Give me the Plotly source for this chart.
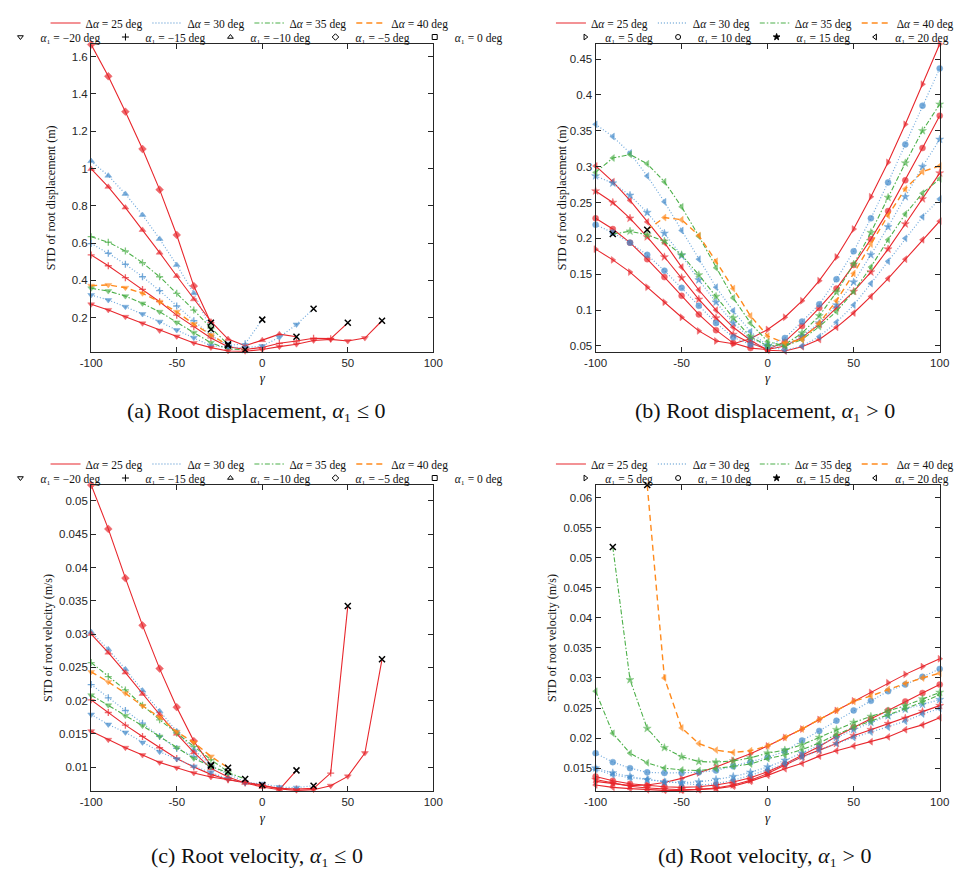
import plotly.graph_objects as go

# ---------------- data ----------------
GAMMA_STEP = 10
X_TICKS = [-100, -50, 0, 50, 100]
X_TICK_TEXT = ["-100", "-50", "0", "50", "100"]

A_Y_TICKS = [0.2, 0.4, 0.6, 0.8, 1.0, 1.2, 1.4, 1.6]
A_Y_TEXT = ["0.2", "0.4", "0.6", "0.8", "1", "1.2", "1.4", "1.6"]
B_Y_TICKS = [0.05, 0.1, 0.15, 0.2, 0.25, 0.3, 0.35, 0.4, 0.45]
B_Y_TEXT = ["0.05", "0.1", "0.15", "0.2", "0.25", "0.3", "0.35", "0.4", "0.45"]
C_Y_TICKS = [0.01, 0.015, 0.02, 0.025, 0.03, 0.035, 0.04, 0.045, 0.05]
C_Y_TEXT = ["0.01", "0.015", "0.02", "0.025", "0.03", "0.035", "0.04", "0.045", "0.05"]
D_Y_TICKS = [0.015, 0.02, 0.025, 0.03, 0.035, 0.04, 0.045, 0.05, 0.055, 0.06]
D_Y_TEXT = ["0.015", "0.02", "0.025", "0.03", "0.035", "0.04", "0.045", "0.05", "0.055", "0.06"]

DALPHA = [25, 30, 35, 40]
ALPHA1_NEG = [-20, -15, -10, -5, 0]
ALPHA1_POS = [5, 10, 15, 20]

# (a) root displacement, alpha1 <= 0   (gamma from -100 step 10)
A_25_M5 = [1.665, 1.495, 1.305, 1.105, 0.887, 0.644, 0.370, 0.173]
A_30_M10 = [1.040, 0.962, 0.864, 0.751, 0.623, 0.483, 0.332, 0.138]
A_25_M10 = [0.998, 0.902, 0.791, 0.671, 0.549, 0.424, 0.299, 0.180, 0.086, 0.050, 0.080, 0.112, 0.098]
A_35_M15 = [0.635, 0.605, 0.558, 0.495, 0.420, 0.331, 0.241, 0.145, 0.058]
A_30_M15 = [0.598, 0.546, 0.487, 0.420, 0.345, 0.263, 0.184, 0.105, 0.052, 0.060, 0.190]
A_25_M15 = [0.537, 0.479, 0.415, 0.352, 0.286, 0.214, 0.152, 0.092, 0.045, 0.030, 0.041, 0.063, 0.075, 0.090, 0.088, 0.173]
A_40_M20 = [0.372, 0.376, 0.361, 0.331, 0.286, 0.232, 0.166, 0.107, 0.052]
A_35_M20 = [0.358, 0.343, 0.316, 0.277, 0.232, 0.175, 0.120, 0.066, 0.033, 0.028]
A_30_M20 = [0.322, 0.295, 0.259, 0.220, 0.179, 0.134, 0.093, 0.050, 0.042, 0.040, 0.048, 0.095, 0.164, 0.248]
A_25_M20 = [0.272, 0.242, 0.205, 0.170, 0.132, 0.100, 0.065, 0.040, 0.022, 0.020, 0.030, 0.045, 0.058, 0.078, 0.084, 0.075, 0.091, 0.184]

# (b) root displacement, alpha1 > 0
B_25_P5 = [0.185, 0.170, 0.153, 0.132, 0.111, 0.090, 0.071, 0.057, 0.053, 0.060, 0.073, 0.090, 0.113, 0.141, 0.174, 0.213, 0.258, 0.306, 0.359, 0.415, 0.471]
B_25_P10 = [0.228, 0.213, 0.194, 0.171, 0.146, 0.120, 0.094, 0.072, 0.054, 0.047, 0.045, 0.056, 0.078, 0.103, 0.130, 0.163, 0.199, 0.238, 0.281, 0.326, 0.371]
B_25_P15 = [0.266, 0.250, 0.228, 0.202, 0.174, 0.145, 0.115, 0.089, 0.066, 0.054, 0.045, 0.050, 0.062, 0.080, 0.103, 0.126, 0.153, 0.185, 0.220, 0.255, 0.291]
B_25_P20 = [0.301, 0.279, 0.253, 0.223, 0.194, 0.160, 0.128, 0.100, 0.076, 0.058, 0.044, 0.043, 0.049, 0.059, 0.076, 0.096, 0.119, 0.144, 0.171, 0.198, 0.224]
B_30_P10 = [0.219, 0.208, 0.194, 0.177, 0.155, 0.131, 0.106, 0.082, 0.062, 0.052, 0.050, 0.061, 0.084, 0.108, 0.143, 0.182, 0.228, 0.278, 0.331, 0.385, 0.437]
B_30_P15 = [0.287, 0.277, 0.260, 0.236, 0.207, 0.176, 0.142, 0.111, 0.082, 0.061, 0.050, 0.050, 0.064, 0.082, 0.107, 0.139, 0.177, 0.216, 0.258, 0.300, 0.338]
B_30_P20 = [0.359, 0.342, 0.319, 0.287, 0.251, 0.211, 0.171, 0.132, 0.099, 0.070, 0.050, 0.044, 0.050, 0.063, 0.083, 0.107, 0.137, 0.168, 0.200, 0.230, 0.255]
B_35_P15 = [0.206, 0.210, 0.205, 0.196, 0.177, 0.149, 0.119, 0.089, 0.063, 0.050, 0.052, 0.068, 0.092, 0.125, 0.164, 0.208, 0.257, 0.305, 0.350, 0.387]
B_35_P20 = [0.292, 0.312, 0.317, 0.304, 0.279, 0.244, 0.203, 0.159, 0.117, 0.082, 0.056, 0.050, 0.059, 0.077, 0.098, 0.126, 0.160, 0.198, 0.234, 0.263, 0.283]
B_40_P20 = [0.212, 0.229, 0.226, 0.204, 0.168, 0.130, 0.092, 0.064, 0.054, 0.059, 0.082, 0.113, 0.151, 0.192, 0.232, 0.269, 0.293, 0.301]

# (c) root velocity, alpha1 <= 0
C_25_M5 = [0.0524, 0.0458, 0.0384, 0.0313, 0.0248, 0.0190, 0.0139, 0.0102]
C_30_M10 = [0.0303, 0.0277, 0.0247, 0.0215, 0.0184, 0.0154, 0.0126, 0.0103]
C_25_M10 = [0.0300, 0.0272, 0.0242, 0.0210, 0.0179, 0.0150, 0.0122, 0.0098, 0.0085, 0.0076, 0.0070, 0.0066, 0.0095]
C_35_M15 = [0.0257, 0.0236, 0.0216, 0.0193, 0.0171, 0.0151, 0.0131, 0.0111, 0.0093]
C_30_M15 = [0.0224, 0.0204, 0.0185, 0.0166, 0.0146, 0.0128, 0.0116, 0.0101, 0.0089, 0.0078, 0.0073]
C_25_M15 = [0.0201, 0.0182, 0.0163, 0.0146, 0.0129, 0.0113, 0.0100, 0.0089, 0.0081, 0.0076, 0.0072, 0.0068, 0.0067, 0.0068, 0.0091, 0.0342]
C_40_M20 = [0.0243, 0.0228, 0.0211, 0.0192, 0.0175, 0.0153, 0.0137, 0.0116, 0.0099]
C_35_M20 = [0.0208, 0.0193, 0.0177, 0.0162, 0.0146, 0.0129, 0.0113, 0.0101, 0.0091, 0.0082]
C_30_M20 = [0.0179, 0.0164, 0.0152, 0.0137, 0.0123, 0.0112, 0.0101, 0.0092, 0.0082, 0.0076, 0.0075, 0.0070, 0.0069, 0.0072]
C_25_M20 = [0.0154, 0.0141, 0.0129, 0.0118, 0.0107, 0.0099, 0.0091, 0.0085, 0.0081, 0.0077, 0.0073, 0.0067, 0.0065, 0.0066, 0.0072, 0.0086, 0.0121, 0.0262]

# (d) root velocity, alpha1 > 0
D_25_P5 = [0.0128, 0.0124, 0.0121, 0.0122, 0.0126, 0.0133, 0.0142, 0.0152, 0.0163, 0.0174, 0.0187, 0.0201, 0.0215, 0.0231, 0.0246, 0.0262, 0.0276, 0.0292, 0.0306, 0.0319, 0.0332]
D_25_P10 = [0.0136, 0.0129, 0.0124, 0.0121, 0.0119, 0.0118, 0.0119, 0.0122, 0.0127, 0.0134, 0.0144, 0.0157, 0.0171, 0.0186, 0.0203, 0.0218, 0.0232, 0.0246, 0.0261, 0.0275, 0.0289]
D_25_P15 = [0.0131, 0.0125, 0.0120, 0.0117, 0.0115, 0.0114, 0.0115, 0.0117, 0.0122, 0.0130, 0.0141, 0.0155, 0.0169, 0.0180, 0.0191, 0.0204, 0.0214, 0.0224, 0.0233, 0.0244, 0.0254]
D_25_P20 = [0.0122, 0.0118, 0.0116, 0.0114, 0.0113, 0.0113, 0.0114, 0.0116, 0.0120, 0.0128, 0.0138, 0.0149, 0.0158, 0.0170, 0.0179, 0.0187, 0.0194, 0.0202, 0.0214, 0.0222, 0.0234]
D_30_P10 = [0.0175, 0.0160, 0.0150, 0.0143, 0.0142, 0.0142, 0.0143, 0.0146, 0.0153, 0.0160, 0.0168, 0.0178, 0.0196, 0.0212, 0.0229, 0.0246, 0.0262, 0.0278, 0.0289, 0.0302, 0.0315]
D_30_P15 = [0.0150, 0.0142, 0.0136, 0.0131, 0.0127, 0.0126, 0.0127, 0.0131, 0.0136, 0.0143, 0.0152, 0.0163, 0.0175, 0.0188, 0.0201, 0.0214, 0.0226, 0.0237, 0.0248, 0.0256, 0.0264]
D_30_P20 = [0.0148, 0.0139, 0.0134, 0.0131, 0.0127, 0.0124, 0.0122, 0.0124, 0.0130, 0.0138, 0.0147, 0.0157, 0.0168, 0.0180, 0.0191, 0.0201, 0.0210, 0.0218, 0.0228, 0.0240, 0.0249]
D_35_P15 = [0.0518, 0.0297, 0.0216, 0.0184, 0.0169, 0.0161, 0.0160, 0.0162, 0.0167, 0.0175, 0.0180, 0.0189, 0.0201, 0.0214, 0.0226, 0.0236, 0.0245, 0.0254, 0.0265, 0.0276]
D_35_P20 = [0.0278, 0.0208, 0.0175, 0.0159, 0.0150, 0.0147, 0.0146, 0.0149, 0.0153, 0.0157, 0.0166, 0.0172, 0.0181, 0.0192, 0.0206, 0.0218, 0.0228, 0.0238, 0.0249, 0.0260, 0.0272]
D_40_P20 = [0.0621, 0.0300, 0.0217, 0.0191, 0.0180, 0.0176, 0.0179, 0.0187, 0.0201, 0.0215, 0.0231, 0.0246, 0.0261, 0.0270, 0.0281, 0.0291, 0.0300, 0.0308]

# series: (delta alpha, alpha1, first gamma, values)
A_SERIES = [(25, -5, -100, A_25_M5), (30, -10, -100, A_30_M10), (25, -10, -100, A_25_M10),
            (35, -15, -100, A_35_M15), (30, -15, -100, A_30_M15), (25, -15, -100, A_25_M15),
            (40, -20, -100, A_40_M20), (35, -20, -100, A_35_M20), (30, -20, -100, A_30_M20),
            (25, -20, -100, A_25_M20)]
B_SERIES = [(25, 5, -100, B_25_P5), (25, 10, -100, B_25_P10), (25, 15, -100, B_25_P15),
            (25, 20, -100, B_25_P20), (30, 10, -100, B_30_P10), (30, 15, -100, B_30_P15),
            (30, 20, -100, B_30_P20), (35, 15, -90, B_35_P15), (35, 20, -100, B_35_P20),
            (40, 20, -70, B_40_P20)]
C_SERIES = [(25, -5, -100, C_25_M5), (30, -10, -100, C_30_M10), (25, -10, -100, C_25_M10),
            (35, -15, -100, C_35_M15), (30, -15, -100, C_30_M15), (25, -15, -100, C_25_M15),
            (40, -20, -100, C_40_M20), (35, -20, -100, C_35_M20), (30, -20, -100, C_30_M20),
            (25, -20, -100, C_25_M20)]
D_SERIES = [(25, 5, -100, D_25_P5), (25, 10, -100, D_25_P10), (25, 15, -100, D_25_P15),
            (25, 20, -100, D_25_P20), (30, 10, -100, D_30_P10), (30, 15, -100, D_30_P15),
            (30, 20, -100, D_30_P20), (35, 15, -90, D_35_P15), (35, 20, -100, D_35_P20),
            (40, 20, -70, D_40_P20)]

# ---------------- styles ----------------
LINE_STYLE = {  # line colour, marker colour, dash, width
    25: ("#E8272D", "#E8272D", "solid", 1.1),
    30: ("#6FA8DC", "#3D87C9", "1px,2px", 1.2),
    35: ("#4DB04A", "#4DB04A", "5px,2px,1.5px,2px", 1.1),
    40: ("#FF8A1C", "#FF8A1C", "6px,4px", 1.4),
}
SYMBOL = {-20: "triangle-down", -15: "cross-thin", -10: "triangle-up", -5: "diamond", 0: "square",
          5: "triangle-right", 10: "circle", 15: "star", 20: "triangle-left"}
LEG_SYMBOL = {-20: "triangle-down-open", -15: "cross-thin-open", -10: "triangle-up-open",
              -5: "diamond-open", 0: "square-open", 5: "triangle-right-open", 10: "circle-open",
              15: "star", 20: "triangle-left-open"}
MS = 6
AXC = "#262626"
SERIF = "Liberation Serif"
SANS = "Liberation Sans"

fig = go.Figure()


def add_panel(series, xa, ya):
    mx, my = [], []
    for dal, a1, g0, vals in series:
        gam = [g0 + GAMMA_STEP * i for i in range(len(vals))]
        lc, mc, dash, lw = LINE_STYLE[dal]
        sizes = [MS] * len(vals)
        if gam[-1] < 100:
            sizes[-1] = 0
            mx.append(gam[-1]); my.append(vals[-1])
        if gam[0] > -100:
            sizes[0] = 0
            mx.append(gam[0]); my.append(vals[0])
        thin = SYMBOL[a1] == "cross-thin"
        fig.add_trace(go.Scatter(
            x=gam, y=vals, mode="lines+markers", xaxis=xa, yaxis=ya, showlegend=False,
            line=dict(color=lc, dash=dash, width=lw),
            marker=dict(symbol=SYMBOL[a1], size=[s - (1 if thin and s else 0) for s in sizes],
                        color=mc, line=dict(color=mc, width=1.3 if thin else 0.5)),
            cliponaxis=False, hoverinfo="skip"))
    fig.add_trace(go.Scatter(
        x=mx, y=my, mode="markers", xaxis=xa, yaxis=ya, showlegend=False,
        marker=dict(symbol="x-thin", size=6, color="black", line=dict(color="black", width=1.5)),
        cliponaxis=False, hoverinfo="skip"))


def add_legends(xa, ya, leg1, leg2, alphas):
    for dal in DALPHA:
        lc, mc, dash, lw = LINE_STYLE[dal]
        fig.add_trace(go.Scatter(x=[None], y=[None], mode="lines", xaxis=xa, yaxis=ya,
                                 line=dict(color=mc, dash=dash, width=lw),
                                 name="Δ<i>α</i> = %d deg" % dal, legend=leg1))
    for a1 in alphas:
        txt = ("−%d" % -a1) if a1 < 0 else ("%d" % a1)
        fig.add_trace(go.Scatter(x=[None], y=[None], mode="markers", xaxis=xa, yaxis=ya,
                                 marker=dict(symbol=LEG_SYMBOL[a1], size=5, color="black",
                                             line=dict(color="black", width=1)),
                                 name="<i>α</i>₁ = %s deg" % txt, legend=leg2))


add_panel(A_SERIES, "x", "y")
add_panel(B_SERIES, "x2", "y2")
add_panel(C_SERIES, "x3", "y3")
add_panel(D_SERIES, "x4", "y4")
add_legends("x", "y", "legend", "legend2", ALPHA1_NEG)
add_legends("x2", "y2", "legend3", "legend4", ALPHA1_POS)
add_legends("x3", "y3", "legend5", "legend6", ALPHA1_NEG)
add_legends("x4", "y4", "legend7", "legend8", ALPHA1_POS)

W, H = 980, 873
LEFT_DOM = [81 / W, 431 / W]
RIGHT_DOM = [597 / W, 949 / W]
TOP_DOM = [1 - 351.7 / H, 1 - 44 / H]
BOT_DOM = [1 - 791 / H, 1 - 485 / H]


def xaxis(dom, anchor):
    return dict(domain=dom, anchor=anchor, range=[-100, 100], tickmode="array",
                tickvals=X_TICKS, ticktext=X_TICK_TEXT, ticks="inside", ticklen=5,
                tickcolor=AXC, showline=True, linecolor=AXC, linewidth=1.2, mirror="ticks",
                showgrid=False, zeroline=False,
                tickfont=dict(family=SANS, size=11.5, color=AXC),
                title=dict(text="<i>γ</i>", font=dict(family=SERIF, size=13, color="#111"), standoff=5))


def yaxis(dom, anchor, rng, tv, tt, title, standoff):
    return dict(domain=dom, anchor=anchor, range=rng, tickmode="array", tickvals=tv, ticktext=tt,
                ticks="inside", ticklen=5, tickcolor=AXC, showline=True, linecolor=AXC,
                linewidth=1.2, mirror="ticks", showgrid=False, zeroline=False,
                tickfont=dict(family=SANS, size=11.5, color=AXC),
                title=dict(text=title, font=dict(family=SERIF, size=12, color="#111"), standoff=standoff))


def legend_cfg(xc, yc):
    return dict(orientation="h", x=xc, xanchor="center", y=yc, yanchor="middle",
                bgcolor="rgba(0,0,0,0)", borderwidth=0, itemwidth=30, traceorder="normal",
                font=dict(family=SERIF, size=11.5, color="#111"), itemclick=False,
                itemdoubleclick=False)


CAPTIONS = ["(a) Root displacement, <i>α</i>₁ ≤ 0",
            "(b) Root displacement, <i>α</i>₁ > 0",
            "(c) Root velocity, <i>α</i>₁ ≤ 0",
            "(d) Root velocity, <i>α</i>₁ > 0"]
CAP_POS = [(250 / W, 1 - 410 / H), (770 / W, 1 - 410 / H), (251 / W, 1 - 855 / H), (770 / W, 1 - 855 / H)]

fig.update_layout(
    width=W, height=H, margin=dict(l=0, r=0, t=0, b=0),
    paper_bgcolor="white", plot_bgcolor="white",
    xaxis=xaxis(LEFT_DOM, "y"), yaxis=yaxis(TOP_DOM, "x", [0.018, 1.668], A_Y_TICKS, A_Y_TEXT,
                                            "STD of root displacement (m)", 13),
    xaxis2=xaxis(RIGHT_DOM, "y2"), yaxis2=yaxis(TOP_DOM, "x2", [0.042, 0.471], B_Y_TICKS, B_Y_TEXT,
                                                "STD of root displacement (m)", 0),
    xaxis3=xaxis(LEFT_DOM, "y3"), yaxis3=yaxis(BOT_DOM, "x3", [0.0064, 0.0524], C_Y_TICKS, C_Y_TEXT,
                                               "STD of root velocity (m/s)", 3),
    xaxis4=xaxis(RIGHT_DOM, "y4"), yaxis4=yaxis(BOT_DOM, "x4", [0.0112, 0.0621], D_Y_TICKS, D_Y_TEXT,
                                                "STD of root velocity (m/s)", 4),
    legend=legend_cfg(243 / W, 1 - 23 / H), legend2=legend_cfg(248 / W, 1 - 37 / H),
    legend3=legend_cfg(760 / W, 1 - 23 / H), legend4=legend_cfg(765 / W, 1 - 37 / H),
    legend5=legend_cfg(243 / W, 1 - 464 / H), legend6=legend_cfg(248 / W, 1 - 478 / H),
    legend7=legend_cfg(760 / W, 1 - 464 / H), legend8=legend_cfg(765 / W, 1 - 478 / H),
    annotations=[dict(text=t, x=p[0], y=p[1], xref="paper", yref="paper", showarrow=False,
                      xanchor="center", yanchor="middle",
                      font=dict(family=SERIF, size=22, color="#111"))
                 for t, p in zip(CAPTIONS, CAP_POS)],
)

fig.write_html("out.html")
